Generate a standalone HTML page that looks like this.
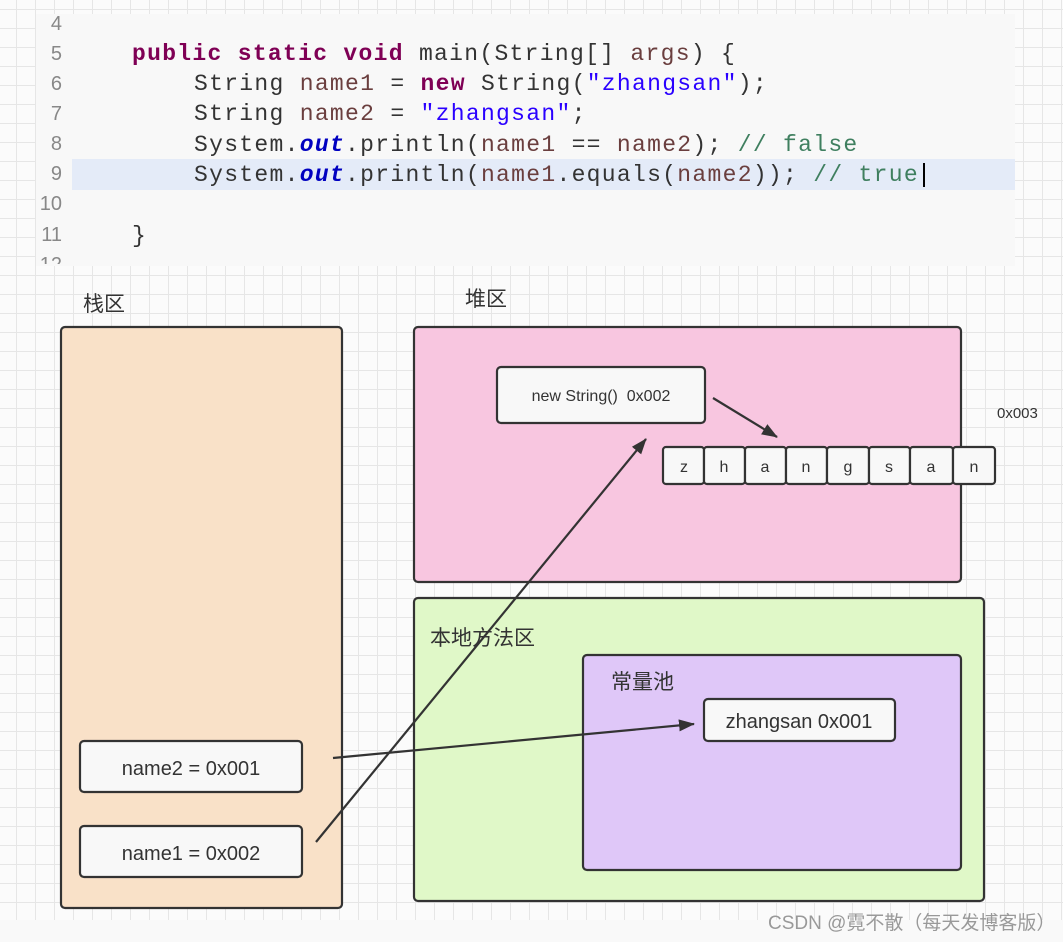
<!DOCTYPE html>
<html><head><meta charset="utf-8"><style>
body{margin:0;width:1063px;height:942px;overflow:hidden;background:#f9f9f9;position:relative;font-family:"Liberation Sans","Noto Sans CJK SC",sans-serif;}
.grid{position:absolute;left:0;top:0;width:1063px;height:920px;background-color:#fbfbfb;
background-image:linear-gradient(to right,#e6e6e6 1px,transparent 1px),linear-gradient(to bottom,#e6e6e6 1px,transparent 1px);
background-size:19px 19px;background-position:16px 9px;}
.code{position:absolute;left:36px;top:14px;width:979px;height:252px;background:#f8f8f8;}
.hl{position:absolute;left:72px;top:159px;width:943px;height:31px;background:#e4ebf8;}
.ln{position:absolute;left:38px;width:24px;text-align:right;font:20px "Liberation Sans",sans-serif;color:#888;}
.cl{position:absolute;left:132px;font:23px "Liberation Mono",monospace;letter-spacing:1.3px;color:#333;white-space:pre;}
.k{color:#7f0055;font-weight:bold}.s{color:#2a00ff}.v{color:#6a3e3e}.c{color:#3f7f5f}.o{color:#0000c0;font-weight:bold;font-style:italic}
</style></head><body>
<div class="grid"></div>
<div class="code"></div>
<div class="hl"></div>
<div class="ln" style="top:13px">4</div>
<div class="ln" style="top:43px">5</div>
<div class="ln" style="top:73px">6</div>
<div class="ln" style="top:103px">7</div>
<div class="ln" style="top:133px">8</div>
<div class="ln" style="top:163px">9</div>
<div class="ln" style="top:193px">10</div>
<div class="ln" style="top:224px">11</div>
<div class="ln" style="top:254px;height:10px;overflow:hidden">12</div>
<div class="cl" style="top:41px"><span class="k">public static void</span> main(String[] <span class="v">args</span>) {</div>
<div class="cl" style="top:71px;left:194px">String <span class="v">name1</span> = <span class="k">new</span> String(<span class="s">"zhangsan"</span>);</div>
<div class="cl" style="top:101px;left:194px">String <span class="v">name2</span> = <span class="s">"zhangsan"</span>;</div>
<div class="cl" style="top:132px;left:194px">System.<span class="o">out</span>.println(<span class="v">name1</span> == <span class="v">name2</span>); <span class="c">// false</span></div>
<div class="cl" style="top:162px;left:194px">System.<span class="o">out</span>.println(<span class="v">name1</span>.equals(<span class="v">name2</span>)); <span class="c">// true</span></div>
<div style="position:absolute;left:923px;top:163px;width:2px;height:24px;background:#000"></div>
<div class="cl" style="top:223px">}</div>

<svg width="1063" height="942" style="position:absolute;left:0;top:0" font-family="Liberation Sans, Noto Sans CJK SC, sans-serif">
<defs><marker id="a" markerWidth="16" markerHeight="12" refX="15" refY="6" orient="auto" markerUnits="userSpaceOnUse"><path d="M0,0 L16,6 L0,12 z" fill="#333"/></marker></defs>
<g stroke="#333" stroke-width="2.2">
<rect x="61" y="327" width="281" height="581" rx="4" fill="#f9e1c8"/>
<rect x="414" y="327" width="547" height="255" rx="4" fill="#f8c6e0"/>
<rect x="414" y="598" width="570" height="303" rx="4" fill="#e0f8c8"/>
<rect x="583" y="655" width="378" height="215" rx="4" fill="#dfc7f8"/>
<rect x="497" y="367" width="208" height="56" rx="4" fill="#f8f8f8"/>
<rect x="704" y="699" width="191" height="42" rx="4" fill="#f8f8f8"/>
<rect x="80" y="741" width="222" height="51" rx="4" fill="#f8f8f8"/>
<rect x="80" y="826" width="222" height="51" rx="4" fill="#f8f8f8"/>
<g fill="#f8f8f8">
<rect x="663" y="447" width="41" height="37" rx="3"/><rect x="704" y="447" width="41" height="37" rx="3"/>
<rect x="745" y="447" width="41" height="37" rx="3"/><rect x="786" y="447" width="41" height="37" rx="3"/>
<rect x="827" y="447" width="42" height="37" rx="3"/><rect x="869" y="447" width="41" height="37" rx="3"/>
<rect x="910" y="447" width="43" height="37" rx="3"/><rect x="953" y="447" width="42" height="37" rx="3"/>
</g>
<line x1="333" y1="758" x2="694" y2="724" marker-end="url(#a)"/>
<line x1="316" y1="842" x2="646" y2="439" marker-end="url(#a)"/>
<line x1="713" y1="398" x2="777" y2="437" marker-end="url(#a)"/>
</g>
<g fill="#333" font-size="16" text-anchor="middle">
<text x="684" y="472">z</text><text x="724" y="472">h</text><text x="765" y="472">a</text><text x="806" y="472">n</text><text x="848" y="472">g</text><text x="889" y="472">s</text><text x="931" y="472">a</text><text x="974" y="472">n</text>
<text x="601" y="401" font-size="16">new String()&#160; 0x002</text>
<text x="799" y="728" font-size="20">zhangsan 0x001</text>
<text x="191" y="775" font-size="20">name2 = 0x001</text>
<text x="191" y="860" font-size="20">name1 = 0x002</text>
</g>
<g fill="#333" font-size="21">
<text x="83" y="311">栈区</text>
<text x="465" y="306">堆区</text>
<text x="430" y="645">本地方法区</text>
<text x="611" y="689">常量池</text>
<text x="997" y="418" font-size="15">0x003</text>
</g>
<text x="768" y="929" font-size="19" fill="#999">CSDN @霓不散（每天发博客版）</text>
</svg>
</body></html>
